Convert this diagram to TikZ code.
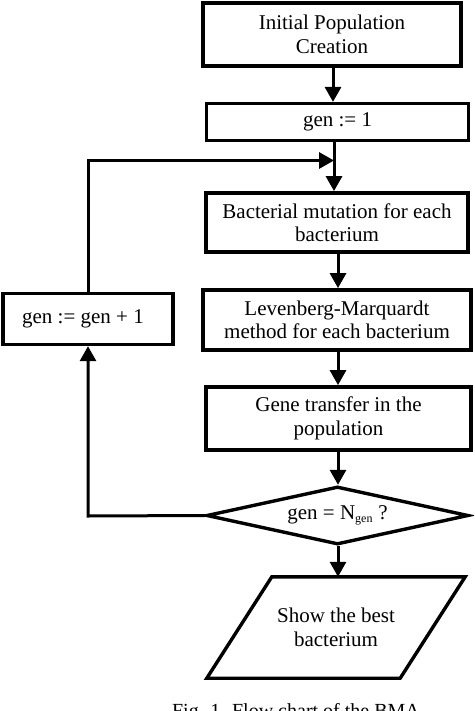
\documentclass[tikz,border=0pt]{standalone}
\usepackage{fontspec}
\setmainfont{Liberation Serif}
\usetikzlibrary{shapes.geometric,arrows.meta}
\begin{document}
\begin{tikzpicture}[x=1pt,y=-1pt,
  every node/.style={font=\fontsize{21}{23.5}\selectfont, align=center, inner sep=0pt},
  procbox/.style={draw, line width=3.8pt, rectangle},
  decbox/.style={draw, line width=3.4pt, diamond, shape aspect=4.4},
  conn/.style={line width=3pt, -{Triangle[length=15pt,width=16pt]}},
  plain/.style={line width=3pt}]
\useasboundingbox (0,0) rectangle (474,711);
\clip (0,0) rectangle (474,711);
\node[procbox, minimum width=258, minimum height=63] (init) at (332,34.5) {Initial Population\\Creation};
\node[procbox, line width=3.2pt, minimum width=262, minimum height=37] (g1) at (337.5,122) {gen := 1};
\node[procbox, minimum width=262, minimum height=59] (mut) at (337,222.5) {Bacterial mutation for each\\bacterium};
\node[procbox, minimum width=268, minimum height=60] (lm) at (337,320) {Levenberg-Marquardt\\method for each bacterium};
\node[procbox, minimum width=265, minimum height=63] (gt) at (338.5,418.5) {Gene transfer in the\\population};
\node[procbox, line width=3.4pt, minimum width=170, minimum height=51] (inc) at (88,319) {gen := gen + 1\hspace*{10pt}};
\node[decbox, minimum width=262, minimum height=58] (dec) at (337.5,515.5) {gen = N\textsubscript{\fontsize{12}{12}\selectfont gen} ?};
\node[minimum width=258, minimum height=101] (show) at (336,627.5) {Show the best\\bacterium};
\draw[line width=3.4pt, line join=miter] (show.south west) -- ([xshift=65pt]show.north west) -- (show.north east) -- ([xshift=-65pt]show.south east) -- cycle;
\node[anchor=base, font=\fontsize{20}{22}\selectfont] (cap) at (296,717) {Fig. 1. Flow chart of the BMA};
\coordinate (j) at (334,160.5);
\coordinate (lb) at (88,516);
\coordinate (lt) at (88,160.5);
\draw[conn] (init.south -| 333,0) -- (g1.north -| 333,0);
\draw[plain] (g1.south -| j) -- (j);
\draw[conn] (j) -- (mut.north -| j);
\draw[conn] (mut.south -| 338,0) -- (lm.north -| 338,0);
\draw[conn] (lm.south -| 338,0) -- (gt.north -| 338,0);
\draw[conn] (gt.south -| 338,0) -- (dec.north -| 338,0);
\draw[conn] (dec.south -| 338,0) -- (show.north -| 338,0);
\draw[conn] (dec.west) -- (lb) -- (inc.south);
\draw[conn] (inc.north) -- (lt) -- (j);
\end{tikzpicture}
\end{document}
